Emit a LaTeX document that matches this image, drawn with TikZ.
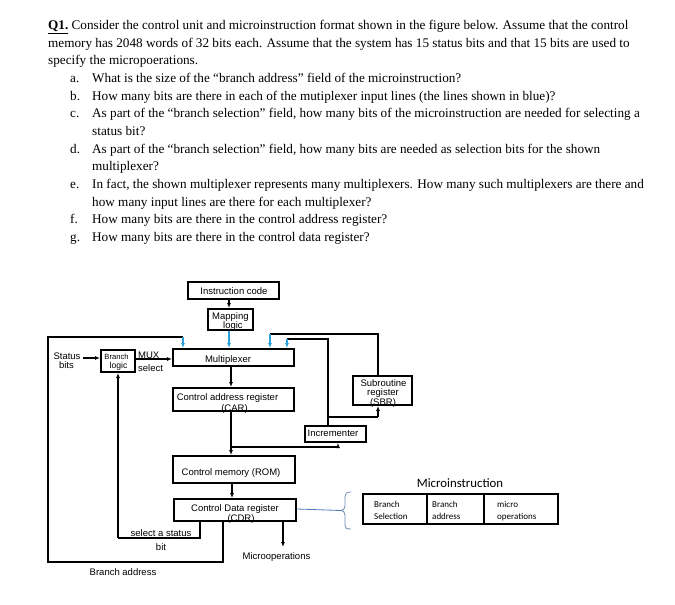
\documentclass[tikz,border=0pt]{standalone}
\usepackage{fontspec}
\setmainfont{Liberation Serif}
\newfontfamily\arialf{Liberation Sans}
\newfontfamily\calibf{Carlito}
\usetikzlibrary{arrows.meta}
\definecolor{muxblue}{RGB}{45,160,220}
\definecolor{bracecol}{RGB}{110,140,180}
\definecolor{linkblue}{RGB}{80,120,190}
\begin{document}
\begin{tikzpicture}[x=1pt,y=-1pt,
  qtext/.style={anchor=base west,inner sep=0pt,font=\fontsize{13.2}{16}\selectfont},
  dtext/.style={anchor=base,inner sep=0pt,font=\arialf\fontsize{9.5}{10}\selectfont},
  dtextl/.style={anchor=base west,inner sep=0pt,font=\arialf\fontsize{9.5}{10}\selectfont},
  blk/.style={draw,line width=2pt,inner sep=0pt,minimum width=#1},
  wire/.style={line width=1.6pt},
  arr/.style={wire,-{Latex[length=5pt,width=4pt]}},
  barr/.style={line width=1.4pt,draw=muxblue,-{Latex[length=5pt,width=4pt]}},
  ttext/.style={anchor=base west,inner sep=0pt,font=\calibf\fontsize{9}{10}\selectfont}]
\useasboundingbox (0,0) rectangle (675,605);
% ---------- question text ----------
\node[qtext] (l0) at (48,29.5) {\underline{\textbf{Q1.}} Consider the control unit and microinstruction format shown in the figure below. Assume that the control};
\node[qtext] (l1) at (48,47.2) {memory has 2048 words of 32 bits each. Assume that the system has 15 status bits and that 15 bits are used to};
\node[qtext] (l2) at (48,64.8) {specify the micropoerations.};
\node[qtext] (ka) at (70,82.5) {a.};
\node[qtext] (ta) at (92,82.5) {What is the size of the “branch address” field of the microinstruction?};
\node[qtext] (kb) at (70,100.2) {b.};
\node[qtext] (tb) at (92,100.2) {How many bits are there in each of the mutiplexer input lines (the lines shown in blue)?};
\node[qtext] (kc) at (70,117.8) {c.};
\node[qtext] (tc) at (92,117.8) {As part of the “branch selection” field, how many bits of the microinstruction are needed for selecting a};
\node[qtext] (tc2) at (92,135.5) {status bit?};
\node[qtext] (kd) at (70,153.2) {d.};
\node[qtext] (td) at (92,153.2) {As part of the “branch selection” field, how many bits are needed as selection bits for the shown};
\node[qtext] (td2) at (92,170.8) {multiplexer?};
\node[qtext] (ke) at (70,188.5) {e.};
\node[qtext] (te) at (92,188.5) {In fact, the shown multiplexer represents many multiplexers. How many such multiplexers are there and};
\node[qtext] (te2) at (92,206.2) {how many input lines are there for each multiplexer?};
\node[qtext] (kf) at (70,223.8) {f.};
\node[qtext] (tf) at (92,223.8) {How many bits are there in the control address register?};
\node[qtext] (kg) at (70,241.5) {g.};
\node[qtext] (tg) at (92,241.5) {How many bits are there in the control data register?};
% ---------- boxes ----------
\node[blk=91pt,minimum height=17pt] (ic) at (233.5,290.5) {};
\node[blk=45pt,minimum height=21pt] (map) at (230.5,319.5) {};
\node[blk=121pt,minimum height=17pt] (mux) at (233.5,357.5) {};
\node[blk=34pt,minimum height=22pt] (bl) at (118,361) {};
\node[blk=121pt,minimum height=23pt] (car) at (233.5,399.5) {};
\node[blk=61pt,minimum height=16pt] (inc) at (335.5,434) {};
\node[blk=59pt,minimum height=29pt] (sbr) at (382.5,390.5) {};
\node[blk=122pt,minimum height=27pt] (rom) at (234,469.5) {};
\node[blk=122pt,minimum height=22pt] (cdr) at (235,510) {};
% ---------- box texts ----------
\node[dtext] (ict) at (234,294.5) {Instruction code};
\node[dtextl] (mapt1) at (212,319.5) {Mapping};
\node[dtextl] (mapt2) at (223,328.5) {logic};
\node[dtext] (muxt) at (228,362) {Multiplexer};
\node[dtext] (st1) at (67,359.5) {Status};
\node[dtext] (st2) at (66.5,368.5) {bits};
\node[dtext,font=\arialf\fontsize{7.6}{8}\selectfont] (blt1) at (116.5,359.5) {Branch};
\node[dtext,font=\arialf\fontsize{8.6}{9}\selectfont] (blt2) at (118.5,368.5) {logic};
\node[dtextl] (ms1) at (138,358.4) {MUX};
\node[dtextl] (ms2) at (138,371.5) {select};
\node[dtext] (cart1) at (227.5,400.5) {Control address register};
\node[dtext] (cart2) at (234.5,411) {(CAR)};
\node[dtext] (inct) at (333,436.5) {Incrementer};
\node[dtext] (sbrt1) at (383.5,386.5) {Subroutine};
\node[dtext] (sbrt2) at (383,395.5) {register};
\node[dtext] (sbrt3) at (383,405.5) {(SBR)};
\node[dtext] (romt) at (231,475.5) {Control memory (ROM)};
\node[dtext] (cdrt1) at (235,511.5) {Control Data register};
\node[dtext] (cdrt2) at (241,521.5) {(CDR)};
\node[dtext] (selt1) at (161,536.5) {select a status};
\node[dtext] (selt2) at (161,550.5) {bit};
\node[dtext] (mop) at (276.5,559.5) {Microoperations};
\node[dtext] (bat) at (123,575.5) {Branch address};
% ---------- junction coordinates ----------
\coordinate (fbA) at (223,562);
\coordinate (fbB) at (48,562);
\coordinate (fbC) at (48,337);
\coordinate (fbD) at (183,337);
\coordinate (selA) at (200,538);
\coordinate (selB) at (118,538);
\coordinate (jcar) at (231,447);
\coordinate (jinc) at (338,447);
\coordinate (iA) at (328,339);
\coordinate (iB) at (287,339);
\coordinate (jsb) at (328,417);
\coordinate (jsb2) at (378,417);
\coordinate (sA) at (378,334);
\coordinate (sB) at (270,334);
\coordinate (stat) at (83,358);
\coordinate (mopend) at (283,547);
% ---------- connectors ----------
\draw[arr] (ic.south -| 229,0) -- (map.north -| 229,0);
\draw[barr] (map.south -| 229,0) -- (mux.north -| 229,0);
\draw[wire] (cdr.south -| fbA) -- (fbA) -- (fbB) -- (fbC) -- (fbD);
\draw[barr] (fbD) -- (mux.north -| fbD);
\draw[wire] (cdr.south -| selA) -- (selA) -- (selB);
\draw[arr] (selB) -- (bl.south);
\draw[arr] (stat) -- (bl.west |- stat);
\draw[arr] (bl.east |- 0,359) -- (mux.west |- 0,359);
\draw[arr] (mux.south -| 231,0) -- (car.north -| 231,0);
\draw[arr] (car.south -| jcar) -- (rom.north -| jcar);
\draw[wire] (jcar) -- (jinc);
\draw[arr] (jinc) -- (inc.south -| jinc);
\draw[wire] (inc.north -| iA) -- (iA) -- (iB);
\draw[barr] (iB) -- (mux.north -| iB);
\draw[wire] (jsb) -- (jsb2);
\draw[arr] (jsb2) -- (sbr.south -| jsb2);
\draw[wire] (sbr.north -| sA) -- (sA) -- (sB);
\draw[barr] (sB) -- (mux.north -| sB);
\draw[arr] (rom.south -| 232,0) -- (cdr.north -| 232,0);
\draw[arr] (cdr.south -| mopend) -- (mopend);
% ---------- microinstruction format ----------
\node[anchor=base,inner sep=0pt,font=\calibf\fontsize{12.8}{14}\selectfont] (mit) at (460,487) {Microinstruction};
\node[draw,line width=1.5pt,inner sep=0pt,minimum width=64pt,minimum height=30pt] (c1) at (395,509) {};
\node[draw,line width=1.5pt,inner sep=0pt,minimum width=57pt,minimum height=30pt] (c2) at (455.5,509) {};
\node[draw,line width=1.5pt,inner sep=0pt,minimum width=74pt,minimum height=30pt] (c3) at (521,509) {};
\node[ttext] (c1a) at (374,507) {Branch};
\node[ttext] (c1b) at (374,519) {Selection};
\node[ttext] (c2a) at (432,507) {Branch};
\node[ttext] (c2b) at (432,519) {address};
\node[ttext] (c3a) at (497,507) {micro};
\node[ttext] (c3b) at (497,519) {operations};
% brace
\coordinate (brtip) at (341,510.5);
\draw[line width=0.8pt,draw=bracecol] (351,492) .. controls (346,492) and (345,494) .. (345,497) -- (345,506) .. controls (345,509) and (343,510.5) .. (brtip) .. controls (343,510.5) and (345,512) .. (345,515) -- (345,525) .. controls (345,528) and (346,529) .. (351,529);
\draw[line width=0.8pt,draw=linkblue] (cdr.east |- 0,509) -- (brtip);
\end{tikzpicture}
\end{document}
